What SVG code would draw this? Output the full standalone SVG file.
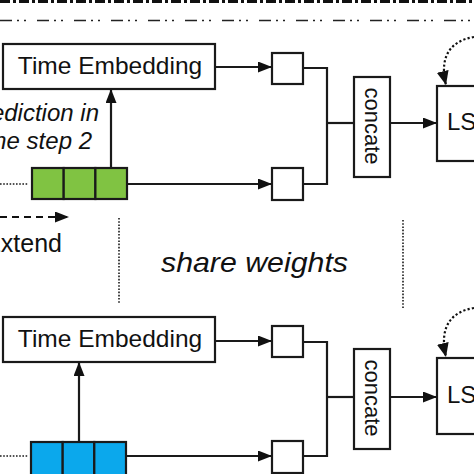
<svg xmlns="http://www.w3.org/2000/svg" width="474" height="474" viewBox="0 0 474 474">
<style>
.box{fill:#fff;stroke:#1a1a1a;stroke-width:2.2}
.ln{fill:none;stroke:#1a1a1a;stroke-width:2.2}
.dot{fill:none;stroke:#1a1a1a;stroke-width:1.6;stroke-dasharray:1.6 1.6}
.t{font-family:"Liberation Sans",Arial,sans-serif;fill:#111}
.it{font-family:"Liberation Sans",Arial,sans-serif;font-style:italic;fill:#111}
.g{fill:#80c342;stroke:#1a1a1a;stroke-width:2.2}
.b{fill:#0ba8ec;stroke:#1a1a1a;stroke-width:2.2}
</style>
<defs>
<marker id="ah" viewBox="0 0 14 11" refX="14" refY="5.5" markerWidth="14" markerHeight="11" orient="auto" markerUnits="userSpaceOnUse">
<path d="M0,0 L14,5.5 L0,11 z" fill="#111"/>
</marker>
<marker id="ah2" viewBox="0 0 14 12" refX="14" refY="6" markerWidth="14" markerHeight="12" orient="auto" markerUnits="userSpaceOnUse">
<path d="M0,0 L14,6 L0,12 z" fill="#111"/>
</marker>
</defs>

<g id="borders">
<line x1="0" y1="1.5" x2="474" y2="1.5" stroke="#111" stroke-width="3" stroke-dasharray="10 3 3 3"/>
<line x1="0" y1="20.5" x2="474" y2="20.5" stroke="#222" stroke-width="1.5" stroke-dasharray="12 5 2 5 2 11"/>
<line x1="119" y1="218" x2="119" y2="304" class="dot"/>
<line x1="403" y1="220" x2="403" y2="308" class="dot"/>
</g>

<g id="labels">
<text class="it" x="99" y="121" font-size="24" text-anchor="end">Prediction in</text>
<text class="it" x="92" y="149" font-size="24" text-anchor="end">time step 2</text>
<text class="t" x="62" y="252" font-size="25" text-anchor="end">Extend</text>
<text class="it" x="161" y="272" font-size="28" textLength="187" lengthAdjust="spacingAndGlyphs">share weights</text>
</g>

<g id="te1">
<rect class="box" x="3" y="44" width="212" height="45"/>
<text class="t" x="110" y="74" font-size="24.5" text-anchor="middle">Time Embedding</text>
</g>
<g id="seq1">
<rect class="g" x="32" y="168" width="31.7" height="31"/>
<rect class="g" x="63.7" y="168" width="31.7" height="31"/>
<rect class="g" x="95.4" y="168" width="31.6" height="31"/>
</g>
<g id="s1a"><rect class="box" x="272" y="53" width="31" height="31"/></g>
<g id="s1b"><rect class="box" x="272" y="168" width="31" height="32"/></g>
<g id="cat1">
<rect class="box" x="354" y="77" width="36" height="100"/>
<text class="t" transform="translate(365,126) rotate(90)" font-size="22" text-anchor="middle">concate</text>
</g>
<g id="lstm1">
<rect class="box" x="437" y="86" width="60" height="75"/>
<text class="t" x="447" y="130" font-size="24">LSTM</text>
</g>

<g id="te2">
<rect class="box" x="3" y="317" width="212" height="45"/>
<text class="t" x="110" y="347" font-size="24.5" text-anchor="middle">Time Embedding</text>
</g>
<g id="seq2">
<rect class="b" x="31" y="442" width="31.7" height="40"/>
<rect class="b" x="62.7" y="442" width="31.6" height="40"/>
<rect class="b" x="94.3" y="442" width="31.7" height="40"/>
</g>
<g id="s2a"><rect class="box" x="272" y="326" width="31" height="31"/></g>
<g id="s2b"><rect class="box" x="272" y="441" width="31" height="32"/></g>
<g id="cat2">
<rect class="box" x="354" y="349" width="36" height="100"/>
<text class="t" transform="translate(365,398) rotate(90)" font-size="22" text-anchor="middle">concate</text>
</g>
<g id="lstm2">
<rect class="box" x="437" y="358" width="60" height="76"/>
<text class="t" x="447" y="403" font-size="24">LSTM</text>
</g>

<g id="connectors">
<line x1="0" y1="184" x2="28" y2="184" class="dot"/>
<line x1="0" y1="456" x2="28" y2="456" class="dot"/>
<line x1="0" y1="217" x2="69" y2="217" stroke="#111" stroke-width="2" stroke-dasharray="7 5" marker-end="url(#ah)"/>

<line x1="111" y1="168" x2="111" y2="89" class="ln" marker-end="url(#ah)"/>
<line x1="215" y1="67" x2="272" y2="67" class="ln" marker-end="url(#ah)"/>
<line x1="127" y1="184" x2="272" y2="184" class="ln" marker-end="url(#ah)"/>
<polyline points="303,68 327,68 327,184 303,184" class="ln"/>
<line x1="327" y1="123" x2="354" y2="123" class="ln"/>
<line x1="390" y1="123" x2="437" y2="123" class="ln" marker-end="url(#ah)"/>
<path d="M474,37 C455,40 438,52 446,85" fill="none" stroke="#111" stroke-width="2.2" stroke-dasharray="2.2 2.2" marker-end="url(#ah2)"/>

<line x1="79" y1="442" x2="79" y2="362" class="ln" marker-end="url(#ah)"/>
<line x1="215" y1="341" x2="272" y2="341" class="ln" marker-end="url(#ah)"/>
<line x1="126" y1="456" x2="272" y2="456" class="ln" marker-end="url(#ah)"/>
<polyline points="303,342 327,342 327,456 303,456" class="ln"/>
<line x1="327" y1="397" x2="354" y2="397" class="ln"/>
<line x1="390" y1="397" x2="437" y2="397" class="ln" marker-end="url(#ah)"/>
<path d="M474,308 C455,311 438,323 446,357" fill="none" stroke="#111" stroke-width="2.2" stroke-dasharray="2.2 2.2" marker-end="url(#ah2)"/>
</g>
</svg>
